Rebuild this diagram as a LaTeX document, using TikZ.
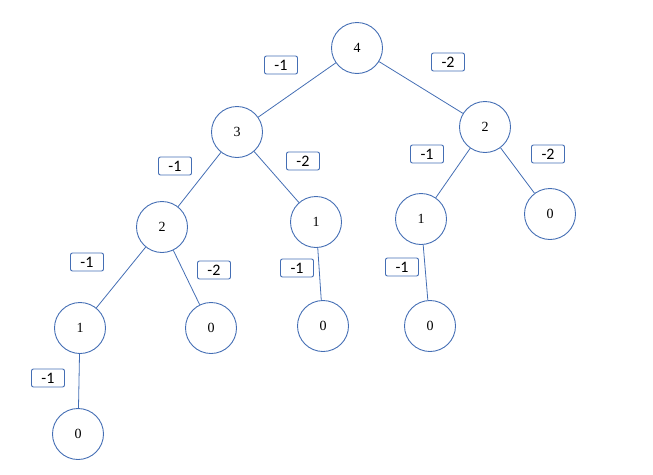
\documentclass[tikz,border=0pt]{standalone}
\usepackage{fontspec}
\setmainfont{Liberation Serif}
\newfontfamily\labfont{Carlito}
\definecolor{edgeblue}{RGB}{68,110,180}
\begin{document}
\begin{tikzpicture}[x=1pt,y=-1pt,
  tnode/.style={circle,draw=edgeblue,line width=0.9pt,minimum size=51pt,inner sep=0pt,font=\fontsize{14}{14}\selectfont},
  wlabel/.style={draw=edgeblue,line width=0.9pt,rounded corners=2pt,minimum width=33pt,minimum height=18pt,inner sep=0pt,font=\labfont\fontsize{16}{16}\selectfont},
  edge/.style={draw=edgeblue,line width=0.8pt}]
\useasboundingbox (0,0) rectangle (653,474);
\node[tnode] (r) at (357,48) {4};
\node[tnode] (a) at (237,132) {3};
\node[tnode] (b) at (485,127) {2};
\node[tnode] (c) at (162,227) {2};
\node[tnode] (d) at (316,222) {1};
\node[tnode] (e) at (421,219) {1};
\node[tnode] (f) at (550,214) {0};
\node[tnode] (g) at (80,328) {1};
\node[tnode] (h) at (211,328) {0};
\node[tnode] (i) at (323,326) {0};
\node[tnode] (j) at (430,326) {0};
\node[tnode] (k) at (78,434) {0};
\draw[edge] (r) -- (a);
\draw[edge] (r) -- (b);
\draw[edge] (a) -- (c);
\draw[edge] (a) -- (d);
\draw[edge] (b) -- (e);
\draw[edge] (b) -- (f);
\draw[edge] (c) -- (g);
\draw[edge] (c) -- (h);
\draw[edge] (d) -- (i);
\draw[edge] (e) -- (j);
\draw[edge] (g) -- (k);
\node[wlabel] (l1) at (281,65) {-1};
\node[wlabel] (l2) at (448,62) {-2};
\node[wlabel] (l3) at (175,166) {-1};
\node[wlabel] (l4) at (303,161) {-2};
\node[wlabel] (l5) at (427,154) {-1};
\node[wlabel] (l6) at (548,154) {-2};
\node[wlabel] (l7) at (87,262) {-1};
\node[wlabel] (l8) at (214,270) {-2};
\node[wlabel] (l9) at (297,268) {-1};
\node[wlabel] (l10) at (402,267) {-1};
\node[wlabel] (l11) at (48,378) {-1};
\end{tikzpicture}
\end{document}
